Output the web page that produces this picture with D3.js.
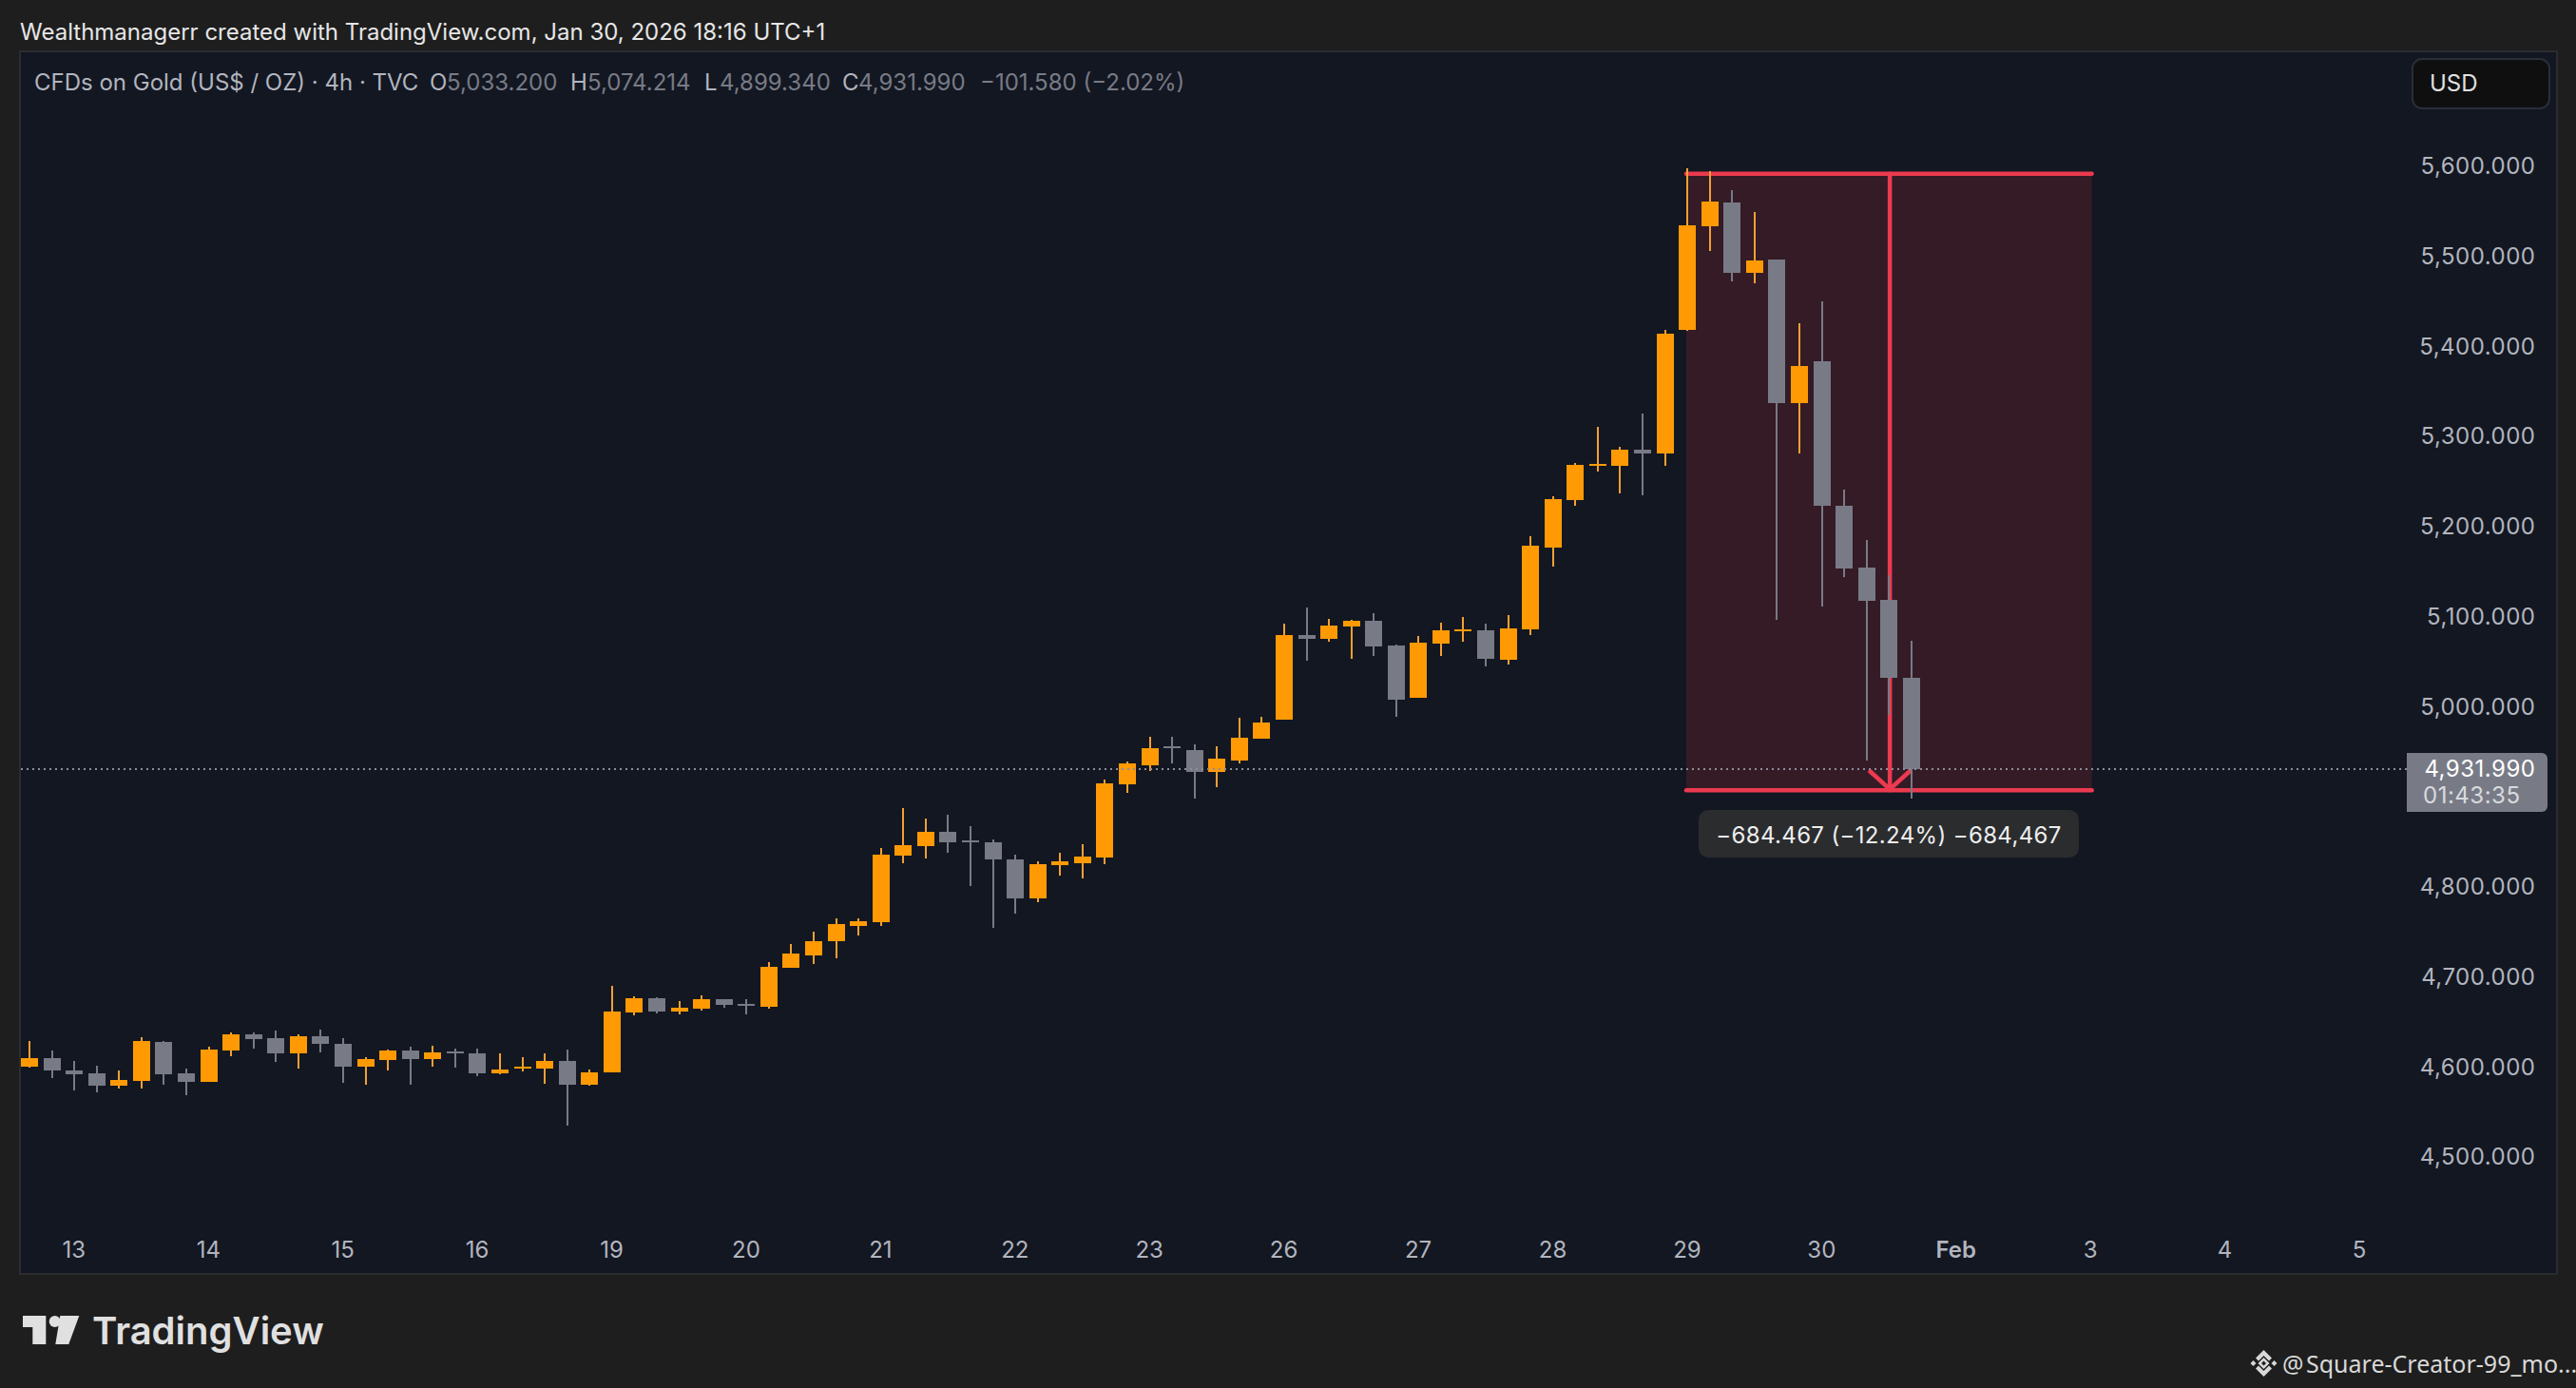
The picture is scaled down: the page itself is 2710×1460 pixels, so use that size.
<!DOCTYPE html>
<html>
<head>
<meta charset="utf-8">
<script src="https://cdn.jsdelivr.net/npm/d3@7/dist/d3.min.js"></script>
<style>
html,body{margin:0;padding:0;background:#1e1e1e;}
svg{display:block;}
text{font-family:Inter,"Noto Sans",sans-serif;}
</style>
</head>
<body>
<svg id="chart" width="2710" height="1460"></svg>
<script>
// ---------- data ----------
const opens  = [4601.6,4611.1,4597.4,4594.2,4580.5,4585.8,4629.1,4594.2,4584.7,4619.6,4637.5,4633.3,4616.4,4635.4,4627.0,4601.6,4609.0,4619.6,4610.1,4618.5,4616.4,4594.2,4599.5,4599.5,4607.9,4581.6,4595.3,4661.8,4677.6,4662.8,4666.0,4676.5,4671.2,4668.0,4711.3,4725.0,4740.9,4757.8,4762.0,4835.9,4846.4,4862.2,4852.7,4850.6,4831.6,4788.4,4825.3,4827.4,4833.7,4915.0,4936.1,4957.3,4953.0,4928.8,4941.4,4965.7,4986.8,5080.7,5076.5,5090.2,5096.6,5069.1,5011.1,5071.2,5085.0,5086.0,5053.3,5087.1,5177.9,5230.6,5268.6,5268.6,5286.6,5282.3,5419.5,5534.6,5561.0,5482.9,5497.6,5338.3,5384.7,5224.3,5155.7,5119.8,5033.2];
const highs  = [4630.1,4619.6,4607.9,4602.7,4597.4,4634.3,4630.1,4599.5,4623.8,4639.6,4639.6,4641.7,4637.5,4642.8,4633.3,4612.2,4620.6,4623.8,4624.8,4621.7,4621.7,4616.4,4612.2,4616.4,4620.6,4598.5,4691.3,4679.7,4678.7,4674.4,4680.7,4676.5,4676.5,4717.7,4737.7,4751.4,4766.2,4766.2,4844.3,4888.6,4877.0,4881.2,4868.6,4853.8,4836.9,4829.5,4839.0,4848.5,4920.3,4940.3,4967.8,4967.8,4959.4,4957.3,4988.9,4990.0,5093.4,5111.3,5098.7,5097.6,5105.0,5070.2,5079.7,5094.5,5100.8,5093.4,5102.9,5190.5,5234.9,5271.8,5311.9,5289.7,5326.7,5419.5,5598.96,5595.8,5574.7,5550.4,5497.6,5426.9,5451.2,5242.2,5186.3,5147.2,5074.214];
const lows   = [4600.6,4589.0,4575.2,4573.1,4577.4,4577.4,4581.6,4570.0,4584.7,4613.2,4621.7,4606.9,4599.5,4617.5,4583.7,4581.6,4597.4,4581.6,4601.6,4600.6,4591.1,4593.2,4596.3,4582.6,4536.2,4580.5,4595.3,4658.6,4660.7,4659.6,4663.8,4667.0,4659.6,4665.9,4711.3,4715.5,4721.9,4747.2,4757.8,4827.4,4832.7,4839.0,4802.1,4755.7,4771.5,4784.1,4813.7,4810.5,4826.4,4905.5,4929.8,4938.3,4899.2,4911.9,4938.3,4965.7,4986.8,5052.2,5073.4,5054.4,5057.5,4990.0,5011.1,5057.5,5073.4,5045.9,5048.0,5080.8,5156.8,5224.3,5262.3,5238.0,5235.9,5268.6,5418.5,5507.1,5473.4,5471.3,5097.6,5282.3,5112.4,5145.1,4941.4,4992.0,4899.34];
const closes = [4611.1,4597.4,4593.2,4580.5,4586.9,4630.1,4593.2,4584.7,4620.6,4637.5,4632.2,4616.4,4635.4,4627.0,4601.6,4610.1,4619.6,4610.1,4617.5,4616.4,4594.2,4598.5,4601.6,4607.9,4581.6,4595.3,4662.8,4677.6,4662.8,4667.0,4676.5,4670.2,4669.1,4712.4,4727.2,4740.9,4759.9,4763.0,4836.9,4847.5,4862.2,4850.6,4850.6,4831.6,4788.4,4826.4,4829.5,4834.8,4916.1,4938.2,4955.2,4955.2,4928.8,4943.5,4966.8,4983.6,5080.7,5076.5,5091.3,5096.6,5068.1,5009.0,5072.3,5086.0,5087.1,5054.4,5088.1,5180.0,5231.7,5269.7,5270.7,5286.6,5282.3,5415.3,5535.6,5562.0,5482.9,5496.6,5338.3,5379.4,5224.3,5154.6,5118.7,5033.2,4931.99];
const priceTicks = [5600,5500,5400,5300,5200,5100,5000,4800,4700,4600,4500];
const dayLabels  = ["13","14","15","16","19","20","21","22","23","26","27","28","29","30","Feb","3","4","5"];
const monthLabels = ["Feb"];
const barsPerDay = 6;
const firstDayBar = 2;
const lastPrice = 4931.99;
const countdown = "01:43:35";
const measureTopPrice = 5592.9;
const measureBottomPrice = 4908.43;
const measureStartBar = 73.95;
const measureEndBar = 92.05;
const measureLabel = "\u2212684.467 (\u221212.24%) \u2212684,467";
const headerText = "Wealthmanagerr created with TradingView.com, Jan 30, 2026 18:16 UTC+1";
const legendTitle = "CFDs on Gold (US$ / OZ) \u00b7 4h \u00b7 TVC";
const legendKeys = ["O","H","L","C"];
const legendValues = ["5,033.200","5,074.214","4,899.340","4,931.990"];
const legendChange = "\u2212101.580 (\u22122.02%)";

// ---------- layout and style ----------
const ORANGE="#ff9a05", ORANGE_WICK="#f4a033", GREY="#787b86", RED="#ec3a4f";
const svg=d3.select("#chart");
const x=d3.scaleLinear().domain([0,84]).range([31,2010.9]);
const y=d3.scaleLinear().domain([5600,4500]).range([176,1218.25]);
const bars=opens.map((o,i)=>({i,o,h:highs[i],l:lows[i],c:closes[i]}));
const bodyW=18, wickW=2;

function label(sel,tx,ty,str,opt={}){
  const t=sel.append("text").attr("x",tx).attr("y",ty).attr("dy","0.36em")
    .attr("fill",opt.fill||"#b2b5be").attr("font-size",opt.size||24)
    .attr("font-weight",opt.weight||400).attr("text-anchor",opt.anchor||"start")
    .attr("letter-spacing",opt.ls||null).text(str);
  if(opt.family) t.style("font-family",opt.family);
  return t;
}

// page + panel
svg.append("rect").attr("width",2710).attr("height",1460).attr("fill","#1e1e1e");
svg.append("rect").attr("x",21).attr("y",54).attr("width",2669).attr("height",1286)
   .attr("fill","#131722").attr("stroke","#2a2c31").attr("stroke-width",2);

label(svg,21,33,headerText,{fill:"#e6e6e6",size:24});

// legend
label(svg,36,86,legendTitle,{size:24});
const legendX=[452,600,741,886], legendValX=[470,618,757,903];
legendKeys.forEach((k,i)=>{
  label(svg,legendX[i],86,k,{size:24});
  label(svg,legendValX[i],86,legendValues[i],{fill:GREY,size:24});
});
label(svg,1031,86,legendChange,{fill:GREY,size:24});

// measure tool (under the candles)
const mx0=x(measureStartBar), mx1=x(measureEndBar), mxc=(mx0+mx1)/2+0.8;
const mt=y(measureTopPrice), mb=y(measureBottomPrice);
const measure=svg.append("g");
measure.append("rect").attr("x",mx0).attr("y",mt).attr("width",mx1-mx0).attr("height",mb-mt)
  .attr("fill","#f23645").attr("fill-opacity",0.15);
[[mx0,mt,mx1,mt],[mx0,mb,mx1,mb],[mxc,mt,mxc,mb]].forEach(s=>{
  measure.append("line").attr("x1",s[0]).attr("y1",s[1]).attr("x2",s[2]).attr("y2",s[3])
    .attr("stroke",RED).attr("stroke-width",4.5).attr("stroke-linecap","round");
});
measure.append("path").attr("d",d3.line()([[mxc-22,mb-21],[mxc,mb-1],[mxc+22,mb-21]]))
  .attr("fill","none").attr("stroke",RED).attr("stroke-width",4.5);

// candles
const candles=svg.append("g").selectAll("g").data(bars).join("g");
candles.append("line").attr("shape-rendering","crispEdges")
  .attr("x1",d=>x(d.i)).attr("x2",d=>x(d.i)).attr("y1",d=>y(d.h)).attr("y2",d=>y(d.l))
  .attr("stroke",d=>d.c>=d.o?ORANGE_WICK:GREY).attr("stroke-width",wickW);
candles.append("rect").attr("shape-rendering","crispEdges")
  .attr("x",d=>x(d.i)-bodyW/2).attr("width",bodyW)
  .attr("y",d=>y(Math.max(d.o,d.c)))
  .attr("height",d=>Math.max(2,Math.abs(y(d.o)-y(d.c))))
  .attr("fill",d=>d.c>=d.o?ORANGE:GREY);

// last-price dotted line
svg.append("line").attr("x1",22).attr("x2",2532).attr("y1",y(lastPrice)).attr("y2",y(lastPrice))
  .attr("stroke","#8b8e98").attr("stroke-width",2).attr("stroke-dasharray","2 4");

// price axis
const yAxis=svg.append("g").attr("transform","translate(2667.5,-2)")
  .call(d3.axisRight(y).tickValues(priceTicks).tickFormat(d3.format(",.3f")).tickSize(0).tickPadding(0));
yAxis.select(".domain").remove();
yAxis.selectAll("text").attr("text-anchor","end").attr("fill","#b2b5be").attr("font-size",24)
  .attr("letter-spacing",0.5).attr("dy","0.36em");

// time axis
const tickBars=dayLabels.map((d,i)=>firstDayBar+i*barsPerDay);
const xAxis=svg.append("g").attr("transform","translate(-0.8,1314)")
  .call(d3.axisBottom(x).tickValues(tickBars).tickFormat((d,i)=>dayLabels[i]).tickSize(0).tickPadding(0));
xAxis.select(".domain").remove();
xAxis.selectAll("text").attr("y",0).attr("dy","0.36em").attr("fill","#b2b5be").attr("font-size",24)
  .attr("font-weight",(d,i)=>monthLabels.includes(dayLabels[i])?600:400);

// USD button
svg.append("rect").attr("x",2538).attr("y",62).attr("width",144).attr("height",52).attr("rx",10)
  .attr("fill","#0f0f0f").attr("stroke","#2a2e39").attr("stroke-width",2);
label(svg,2556,87,"USD",{fill:"#e0e0e0",size:24});

// last-price tag
svg.append("path").attr("d","M2532,792H2674a6,6 0 0 1 6,6V848a6,6 0 0 1 -6,6H2532Z").attr("fill",GREY);
label(svg,2667.5,808,d3.format(",.3f")(lastPrice),{fill:"#ffffff",size:24,anchor:"end",ls:0.5});
label(svg,2549,836,countdown,{fill:"#d9dade",size:24,ls:0.5});

// measure tooltip
svg.append("rect").attr("x",1787).attr("y",852).attr("width",400).attr("height",50).attr("rx",10).attr("fill","#2b2c2e");
label(svg,1987,878,measureLabel,{fill:"#eeeeee",size:24,anchor:"middle",ls:0.35});

// TradingView logo
const logo=svg.append("g").attr("fill","#e0e0e0");
logo.append("path").attr("d","M24,1384H48.3V1414H34.3V1396H24Z");
logo.append("circle").attr("cx",57.7).attr("cy",1390).attr("r",6);
logo.append("path").attr("d","M63.3,1384H83.3L72.3,1414H58.3Z");
label(svg,97,1400,"TradingView",{fill:"#e0e0e0",size:40,weight:600});

// watermark
const bx=2381.5, by=1434;
const wm=svg.append("g").attr("fill","#d8d8d8");
wm.append("path").attr("fill-rule","evenodd")
  .attr("d",`M${bx},${by-6}L${bx+6},${by}L${bx},${by+6}L${bx-6},${by}Z M${bx},${by-2.5}L${bx-2.5},${by}L${bx},${by+2.5}L${bx+2.5},${by}Z`);
wm.append("path").attr("d",`M${bx},${by-14}L${bx+8.5},${by-5.5}L${bx+5.5},${by-2.5}L${bx},${by-8}L${bx-5.5},${by-2.5}L${bx-8.5},${by-5.5}Z`);
wm.append("path").attr("d",`M${bx},${by+14}L${bx+8.5},${by+5.5}L${bx+5.5},${by+2.5}L${bx},${by+8}L${bx-5.5},${by+2.5}L${bx-8.5},${by+5.5}Z`);
wm.append("path").attr("d",`M${bx-14},${by}L${bx-11},${by-3}L${bx-8},${by}L${bx-11},${by+3}Z`);
wm.append("path").attr("d",`M${bx+14},${by}L${bx+11},${by-3}L${bx+8},${by}L${bx+11},${by+3}Z`);
label(svg,2401,1435,"@",{fill:"#d8d8d8",size:25,family:"Noto Sans"});
label(svg,2426,1435,"Square-Creator-99_mo...",{fill:"#d8d8d8",size:25,family:"Noto Sans"});
</script>
</body>
</html>
